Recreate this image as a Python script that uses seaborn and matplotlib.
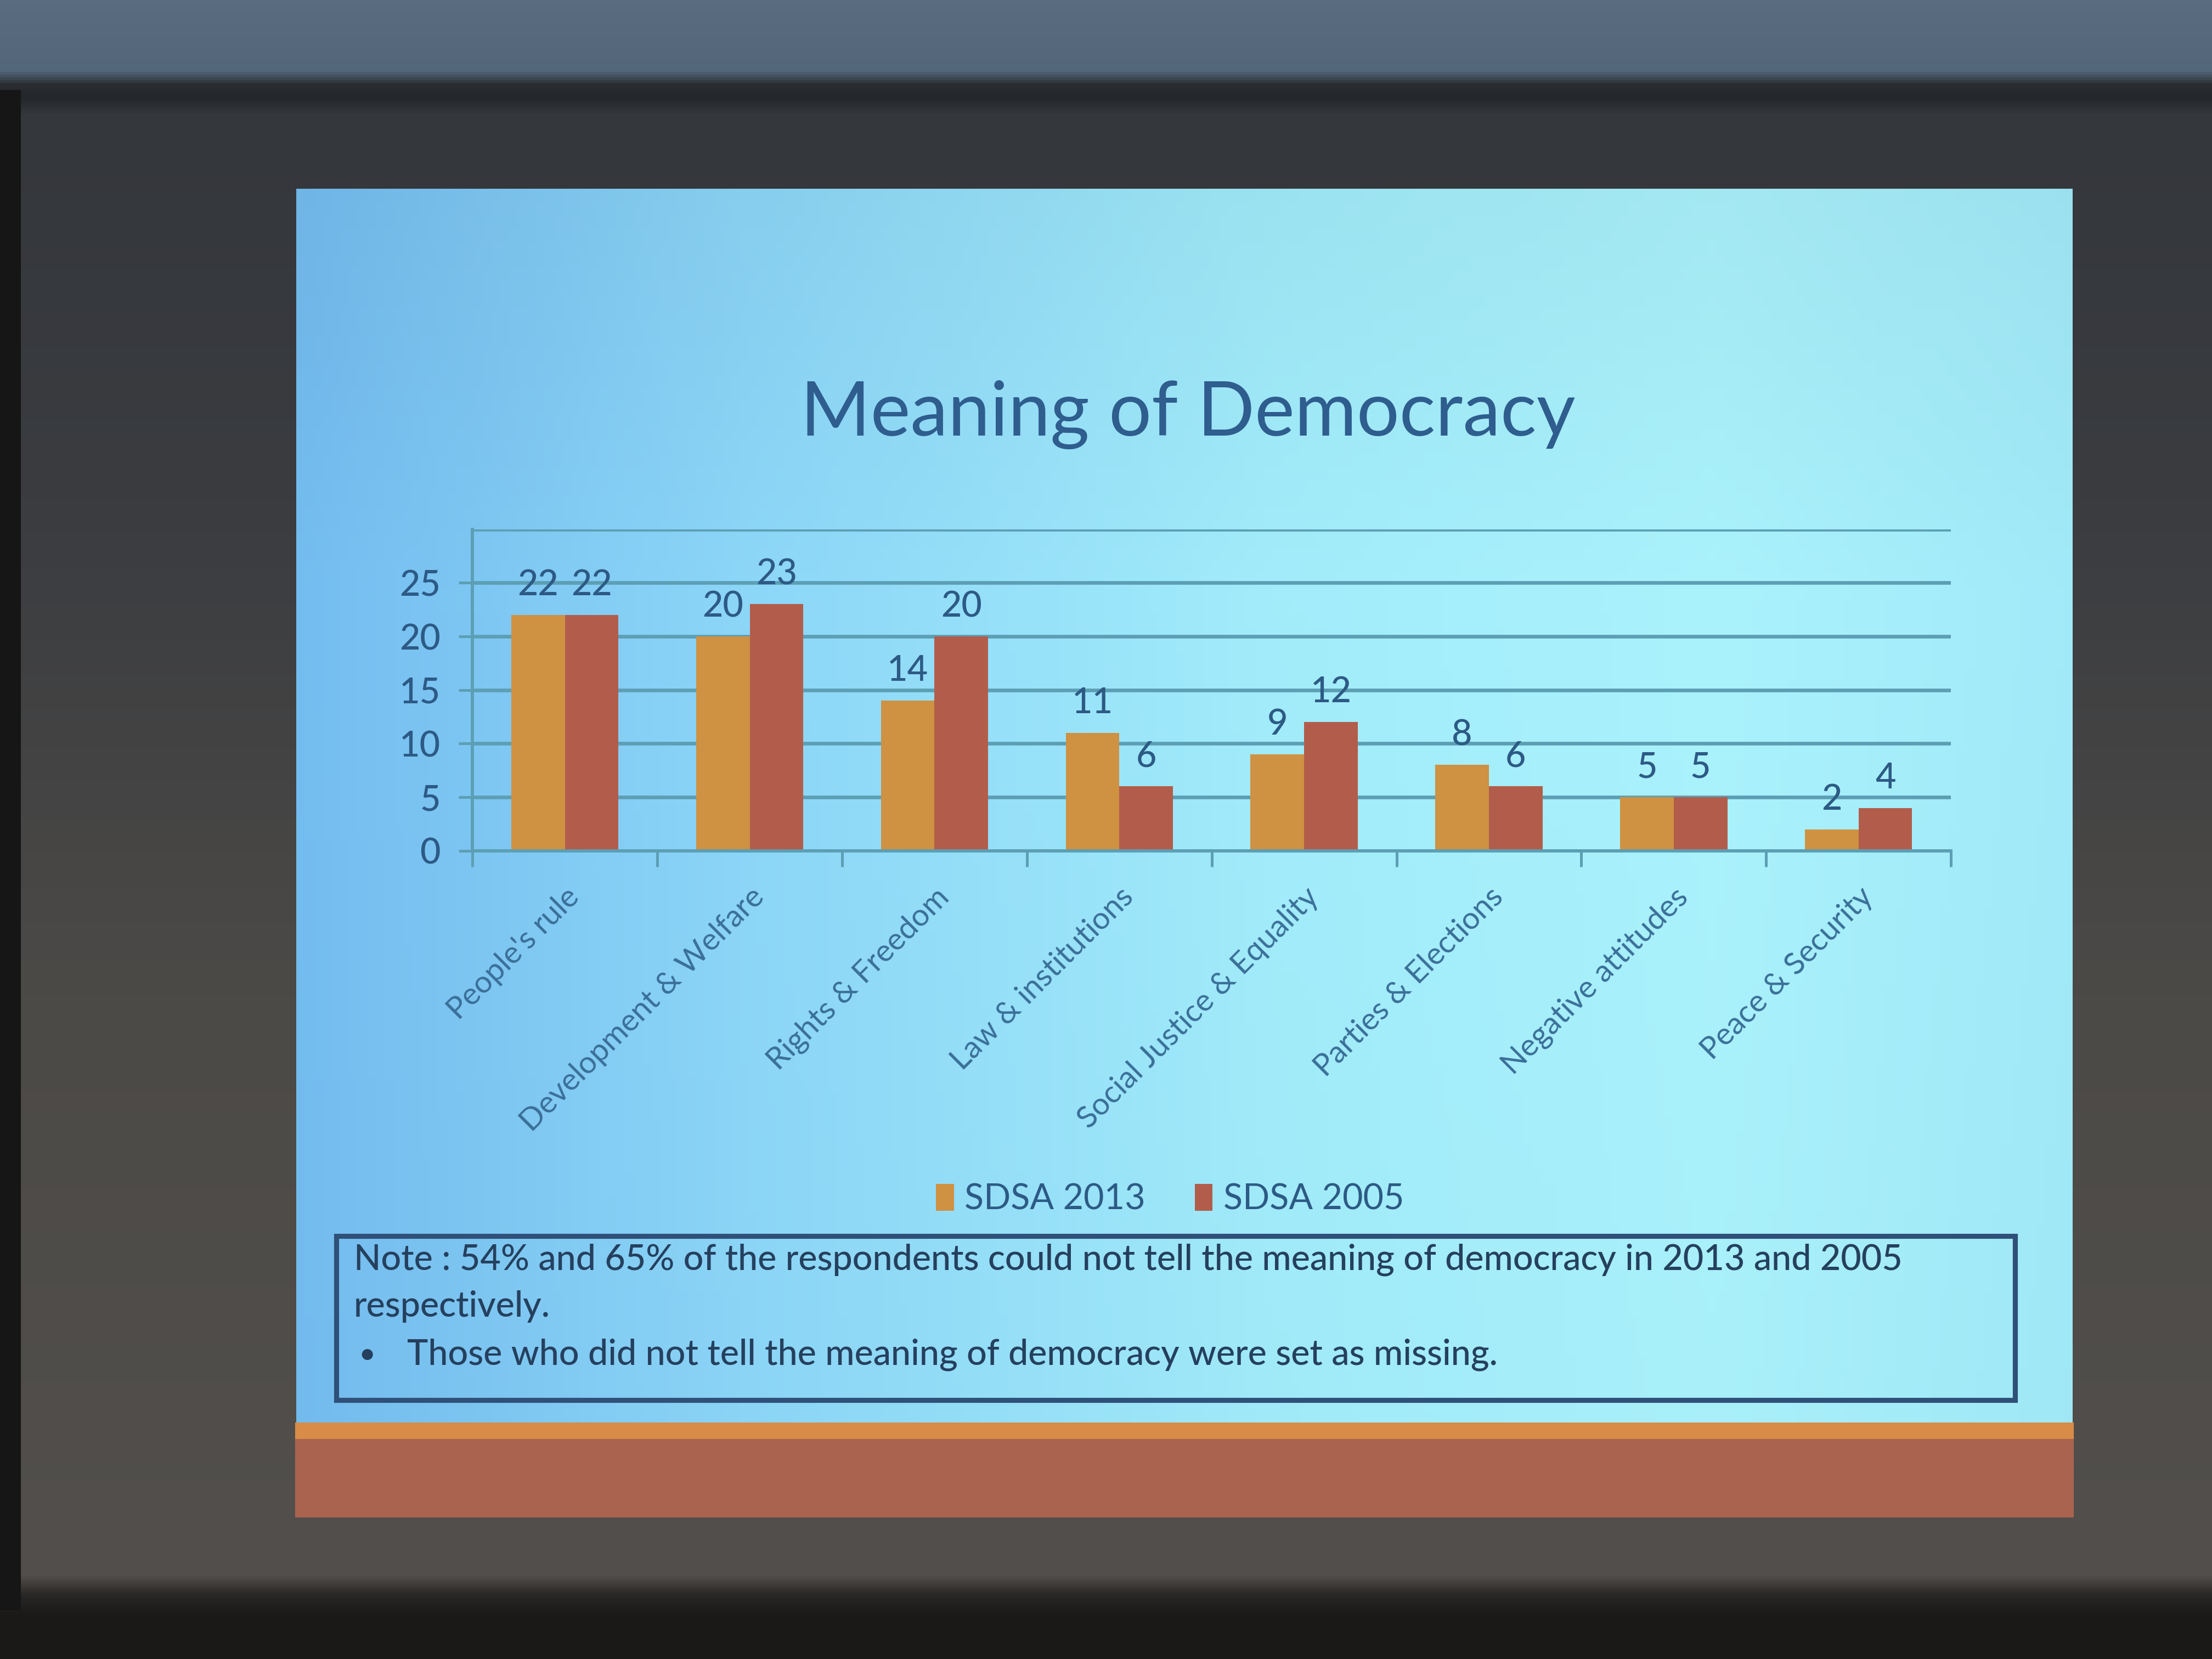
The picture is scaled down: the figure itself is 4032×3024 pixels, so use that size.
import numpy as np
import pandas as pd
import seaborn as sns
import matplotlib.pyplot as plt
from matplotlib.patches import Rectangle
from matplotlib.colors import to_rgb

# chart data
categories = ["People's rule", "Development & Welfare", "Rights & Freedom",
              "Law & institutions", "Social Justice & Equality",
              "Parties & Elections", "Negative attitudes", "Peace & Security"]
sdsa_2013 = [22, 20, 14, 11, 9, 8, 5, 2]
sdsa_2005 = [22, 23, 20, 6, 12, 6, 5, 4]
series = ["SDSA 2013", "SDSA 2005"]
yticks = [0, 5, 10, 15, 20, 25]
title = "Meaning of Democracy"
note_line1 = "Note : 54% and 65% of the respondents could not tell the meaning of democracy in 2013 and 2005"
note_line2 = "respectively."
note_bullet = "Those who did not tell the meaning of democracy were set as missing."

c_orange = "#cf9142"
c_red = "#b25d4b"
c_text = "#2d5a85"
c_grid = "#5c9fb4"

sns.set_theme(style="white")
plt.rcParams['font.family'] = ['Lato', 'DejaVu Sans']


def ramp(stops, n):
    # stops: list of (position 0..1, colour)
    pos = np.array([p for p, _ in stops])
    cols = np.array([to_rgb(c) for _, c in stops])
    t = np.linspace(0, 1, n)
    return np.stack([np.interp(t, pos, cols[:, k]) for k in range(3)], axis=-1)


fig = plt.figure(figsize=(13.44, 10.08), dpi=300)

# room around the projected slide (top -> bottom)
bg = fig.add_axes([0, 0, 1, 1])
bg.set_xlim(0, 1)
bg.set_ylim(0, 1)
bg.axis('off')
wall = ramp([(0.0, "#5a6d80"), (0.042, "#53677a"), (0.050, "#2a2e33"),
             (0.058, "#23262a"), (0.068, "#34373c"), (0.30, "#3a3c40"),
             (0.60, "#4c4a47"), (0.95, "#524f4c"), (0.962, "#2a2826"),
             (0.975, "#1b1917"), (1.0, "#1b1917")], 600)
bg.imshow(wall[:, None, :], extent=(0, 1, 0, 1), aspect='auto', origin='upper', zorder=0)
bg.add_patch(Rectangle((0, 0.03), 0.009, 0.915, color="#161616", zorder=1))

# slide background (blue gradient)
sx0, sx1, sy0, sy1 = 0.134, 0.937, 0.086, 0.886
horiz = ramp([(0.0, "#74bdf0"), (0.25, "#8cd6f8"), (0.55, "#a2ecfb"),
              (0.8, "#aaf2fc"), (1.0, "#a2eaf9")], 200)
vert = np.interp(np.linspace(0, 1, 100), [0, 0.3, 1], [0.96, 1.0, 0.99])[:, None, None]
slide = np.clip(horiz[None, :, :] * vert, 0, 1)
bg.imshow(slide, extent=(sx0, sx1, sy0, sy1), aspect='auto', origin='upper', zorder=2)
bg.add_patch(Rectangle((sx0, 0.132), sx1 - sx0, 0.010, color="#d88c47", zorder=3))
bg.add_patch(Rectangle((sx0, sy0), sx1 - sx0, 0.046, color="#a9634f", zorder=3))

# note box
note_kw = dict(fontsize=15.5, color="#25405e", va='center', zorder=5, fontweight='medium')
bg.add_patch(Rectangle((0.152, 0.156), 0.759, 0.099, fill=False,
                       edgecolor="#2f5078", lw=2.2, zorder=4))
bg.text(0.160, 0.2405, note_line1, **note_kw)
bg.text(0.160, 0.2125, note_line2, **note_kw)
bg.text(0.162, 0.1835, "\u2022", fontsize=13, color="#25405e", va='center', zorder=5)
bg.text(0.184, 0.1835, note_bullet, **note_kw)

# title
bg.text(0.537, 0.750, title, fontsize=33, color="#2e5d8e", ha='center', va='center', zorder=5)

# bar chart
df = pd.DataFrame({
    'category': categories * 2,
    'series': [series[0]] * len(categories) + [series[1]] * len(categories),
    'value': sdsa_2013 + sdsa_2005,
})
ax = fig.add_axes([0.2136, 0.4872, 0.882 - 0.2136, 0.681 - 0.4872])
ax.set_facecolor('none')
sns.barplot(data=df, x='category', y='value', hue='series', hue_order=series,
            palette=[c_orange, c_red], width=0.58, saturation=1, ax=ax,
            edgecolor='none', linewidth=0)
for cont in ax.containers:
    ax.bar_label(cont, padding=6, fontsize=15.5, color=c_text, fontweight='medium')

ax.set_xlim(-0.5, len(categories) - 0.5)
ax.set_ylim(0, 30)
ax.set_yticks(yticks)
ax.set_axisbelow(True)
ax.yaxis.grid(True, color=c_grid, lw=1.6)
ax.axhline(30, color=c_grid, lw=1.6, zorder=0)
for s in ['top', 'right']:
    ax.spines[s].set_visible(False)
for s in ['left', 'bottom']:
    ax.spines[s].set_color(c_grid)
    ax.spines[s].set_linewidth(1.4)
ax.set_xlabel('')
ax.set_ylabel('')
ax.set_xticks(np.arange(len(categories) + 1) - 0.5, minor=True)
ax.tick_params(axis='x', which='major', length=0, pad=14)
ax.tick_params(axis='x', which='minor', length=7, color=c_grid, width=1.2, direction='out', bottom=True)
ax.tick_params(axis='y', length=6, color=c_grid, width=1.2, left=True, pad=8,
               labelsize=15.5, labelcolor=c_text)
for lab in ax.get_yticklabels():
    lab.set_fontweight('medium')
ax.set_xticks(range(len(categories)))
ax.set_xticklabels(categories, rotation=45, ha='right', rotation_mode='anchor',
                   fontsize=13.5, color="#3a6f98")

handles, labels = ax.get_legend_handles_labels()
ax.get_legend().remove()
leg = fig.legend(handles, labels, loc='center', bbox_to_anchor=(0.529, 0.277), ncol=2,
                 frameon=False, fontsize=15.5, handlelength=0.5, handleheight=0.8,
                 handletextpad=0.3, columnspacing=1.4, labelcolor=c_text)

fig.savefig("out.png", dpi=300, facecolor="#45464a")
